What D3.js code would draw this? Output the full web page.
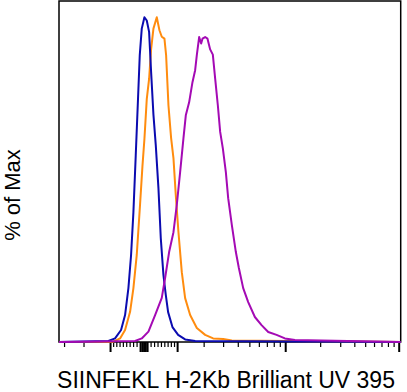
<!DOCTYPE html>
<html lang="en">
<head>
<meta charset="UTF-8">
<title>SIINFEKL H-2Kb histogram</title>
<script src="https://d3js.org/d3.v7.min.js"></script>
<style>
  body { margin: 0; background: #fff; }
  text { font-family: "Liberation Sans", Arial, sans-serif; fill: #000; }
</style>
</head>
<body>
<div id="chart"></div>
<script>
// histogram data: x in display channels (0-1024, logicle scale), y in % of max
var blueX = [0, 148, 168, 186, 198, 208, 216, 223, 230, 236, 242, 248, 256, 263, 270, 276, 283, 290, 298, 305, 313, 320, 327, 340, 357, 378, 408, 1024];
var blueY = [0, 0.3, 1.1, 3.7, 8.3, 16.6, 26.8, 40, 57.5, 72.9, 88.3, 96.5, 100, 99, 95.5, 83.2, 70, 60.6, 47.4, 32, 20.6, 14.5, 9.2, 4.6, 2.2, 0.8, 0.3, 0];

var orangeX = [0, 163, 183, 198, 213, 223, 233, 243, 250, 256, 263, 270, 276, 283, 293, 301, 308, 316, 321, 328, 336, 343, 350, 358, 368, 378, 393, 413, 438, 462, 492, 518, 1024];
var orangeY = [0, 0.1, 1.1, 3.7, 9.3, 16.6, 26.8, 42.5, 54, 62.5, 74.8, 81, 90.1, 96.5, 100, 96, 94, 93.4, 88.3, 72.9, 62.8, 56.6, 45.2, 33.8, 21.5, 13.5, 8.3, 4.3, 2.2, 1.1, 0.9, 0.5, 0];

var purpleX = [0, 228, 248, 268, 288, 308, 318, 330, 343, 353, 363, 373, 380, 390, 400, 408, 413, 420, 426, 430, 438, 445, 453, 461, 468, 476, 483, 491, 500, 507, 518, 530, 539, 552, 567, 587, 607, 627, 652, 677, 707, 1024];
var purpleY = [0, 0.3, 1.1, 3.2, 8.3, 13.6, 19.7, 27.7, 33.8, 42.2, 52.3, 62.8, 69.8, 73.8, 80, 83.7, 88.3, 93.9, 91.9, 93.4, 93.9, 93.4, 90.1, 88.5, 81.1, 72.9, 64.7, 59.6, 52.3, 44.3, 36, 27.7, 22.8, 16.6, 12.3, 7.7, 5.2, 3.1, 2.2, 1.1, 0.6, 0];

// axis ticks (fluorescence values)
var majorTicks = [-1000, 0, 1000, 10000, 100000];
var zeroBlock = [-100, -50, 50, 100];
var minorTicks = [-3000, -2000, -900, -800, -700, -600, -500, -400, -300, -200,
  200, 300, 400, 500, 600, 700, 800, 900,
  2000, 3000, 4000, 5000, 6000, 7000, 8000, 9000,
  20000, 30000, 40000, 50000, 60000, 70000, 80000, 90000];

var xLabel = "SIINFEKL H-2Kb Brilliant UV 395";
var yLabel = "% of Max";

var width = 407, height = 392;
var svg = d3.select("#chart").append("svg")
  .attr("width", width)
  .attr("height", height);

var x = d3.scaleLinear().domain([0, 1024]).range([59, 400.7]);
var y = d3.scaleLinear().domain([0, 105]).range([342, 1]);

// biexponential (logicle-like) value -> channel
var P0 = 0.249, LA = 467, LB = 7.173, LD = 3.77, LR = (LB * LB) / (LD * LD);
function S(u) { return LA * (Math.exp(LB * u) - LR * Math.exp(-LD * u) + LR - 1); }
function toChannel(v) {
  var a = Math.abs(v), lo = 0, hi = 1.5;
  for (var i = 0; i < 60; i++) {
    var mid = (lo + hi) / 2;
    if (S(mid) < a) lo = mid; else hi = mid;
  }
  return 1024 * (P0 + Math.sign(v) * (lo + hi) / 2);
}

// frame
svg.append("rect")
  .attr("x", x(0)).attr("y", y(105))
  .attr("width", x(1024) - x(0)).attr("height", y(0) - y(105))
  .attr("fill", "none").attr("stroke", "#000").attr("stroke-width", 1.5);

// ticks
svg.selectAll(".minor").data(minorTicks).enter().append("line")
  .attr("x1", function(d) { return x(toChannel(d)); })
  .attr("x2", function(d) { return x(toChannel(d)); })
  .attr("y1", y(0)).attr("y2", y(0) + 5)
  .attr("stroke", "#000").attr("stroke-width", 1.2);

svg.selectAll(".major").data(majorTicks.concat(zeroBlock)).enter().append("line")
  .attr("x1", function(d) { return x(toChannel(d)); })
  .attr("x2", function(d) { return x(toChannel(d)); })
  .attr("y1", y(0)).attr("y2", y(0) + 10)
  .attr("stroke", "#000").attr("stroke-width", 2);

// curves
var line = d3.line()
  .x(function(d) { return x(d[0]); })
  .y(function(d) { return y(d[1]); });

var series = [
  { xs: orangeX, ys: orangeY, color: "#ff8c0f" },
  { xs: blueX, ys: blueY, color: "#0b0bb0" },
  { xs: purpleX, ys: purpleY, color: "#a40ab4" }
];

series.forEach(function(s) {
  var pts = s.xs.map(function(v, i) { return [v, s.ys[i]]; });
  svg.append("path")
    .datum(pts)
    .attr("d", line)
    .attr("fill", "none")
    .attr("stroke", s.color)
    .attr("stroke-width", 2)
    .attr("stroke-linejoin", "round");
});

// labels
svg.append("text")
  .attr("x", 226).attr("y", 388)
  .attr("text-anchor", "middle")
  .attr("font-size", 23)
  .text(xLabel);

svg.append("text")
  .attr("transform", "translate(20,195) rotate(-90)")
  .attr("text-anchor", "middle")
  .attr("font-size", 22)
  .text(yLabel);
</script>
</body>
</html>
